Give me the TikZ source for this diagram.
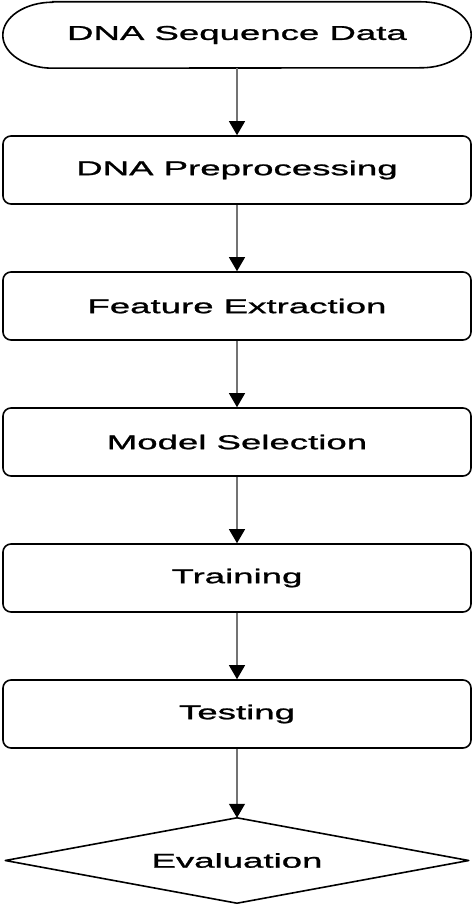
\documentclass[tikz,border=0pt]{standalone}
\usepackage{fontspec}
\newfontfamily\lbl[FakeStretch=1.83,FakeBold=1.2]{Liberation Sans}
\usetikzlibrary{arrows.meta}
\begin{document}
\begin{tikzpicture}[x=1pt,y=-1pt,
  every node/.style={font=\lbl\fontsize{20}{24}\selectfont, inner sep=0pt},
  stepbox/.style={draw=black, line width=1.6pt, rounded corners=8pt, minimum width=468pt, minimum height=68pt},
  flow/.style={draw=black!55, line width=1.1pt, -{Triangle[width=16pt,length=14pt,color=black]}}]
\useasboundingbox (0,0) rectangle (474,904);
\node[minimum width=468pt, minimum height=66pt] (n0) at (237,35) {DNA Sequence Data};
\draw[line width=1.6pt] ([xshift=50pt]n0.north west) -- ([xshift=-50pt]n0.north east)
  arc[start angle=90, end angle=-90, x radius=50pt, y radius=33pt]
  -- ([xshift=50pt]n0.south west)
  arc[start angle=270, end angle=90, x radius=50pt, y radius=33pt] -- cycle;
\node[stepbox] (n1) at (237,170) {DNA Preprocessing};
\node[stepbox] (n2) at (237,306) {Feature Extraction};
\node[stepbox] (n3) at (237,442) {Model Selection};
\node[stepbox] (n4) at (237,578) {Training};
\node[stepbox] (n5) at (237,714) {Testing};
\node[minimum width=463pt, minimum height=85pt] (n6) at (237,860.5) {Evaluation};
\draw[line width=1.6pt, line join=round] (n6.north) -- (n6.east) -- (n6.south) -- (n6.west) -- cycle;
\draw[flow] (n0.south) -- (n1.north);
\draw[flow] (n1.south) -- (n2.north);
\draw[flow] (n2.south) -- (n3.north);
\draw[flow] (n3.south) -- (n4.north);
\draw[flow] (n4.south) -- (n5.north);
\draw[flow] (n5.south) -- (n6.north);
\end{tikzpicture}
\end{document}
